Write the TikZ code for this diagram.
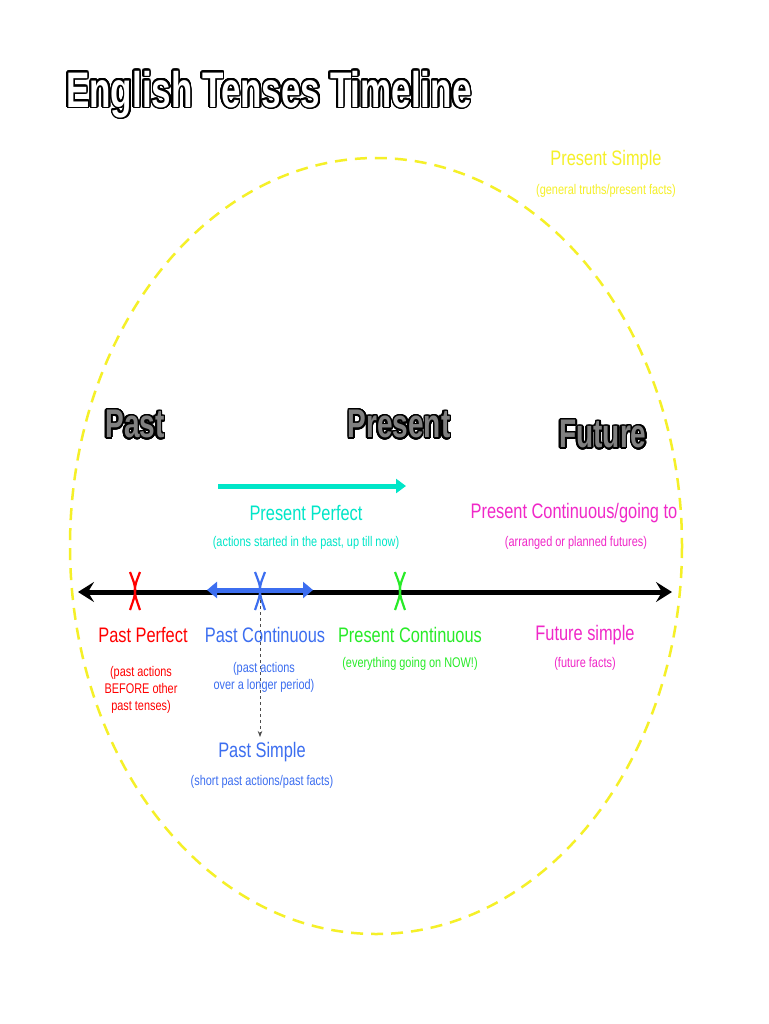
\documentclass[tikz,border=0pt]{standalone}
\usepackage{fontspec}
\setmainfont{Liberation Sans}[FakeStretch=0.78]
\newfontfamily\titlefont{Liberation Sans}[FakeStretch=0.70]
\usepackage{contour}
\contournumber{32}
\usetikzlibrary{arrows.meta}
\definecolor{cyanx}{RGB}{0,230,200}
\definecolor{bluex}{RGB}{60,110,240}
\definecolor{greenx}{RGB}{40,235,40}
\definecolor{pinkx}{RGB}{240,40,200}
\definecolor{yellowx}{RGB}{245,240,40}
\tikzset{main/.style={font=\fontsize{21}{24}\selectfont},
 sub/.style={font=\fontsize{14}{17}\selectfont,align=center},
 big/.style={font=\titlefont\bfseries\fontsize{40}{46}\selectfont},
 xmark/.style={line width=2.2pt}}
\begin{document}
\begin{tikzpicture}[x=1pt,y=-1pt]
\useasboundingbox (0,0) rectangle (768,1024);
\fill[white] (0,0) rectangle (768,1024);
\draw[yellowx,line width=2.5pt,dash pattern=on 12pt off 8pt] (376,546) ellipse [x radius=306,y radius=388];
\contourlength{1.6pt}
\node[anchor=west,font=\titlefont\bfseries\fontsize{50}{56}\selectfont,inner sep=0pt] (title) at (66,95) {\contour{black}{\textcolor{white}{English Tenses Timeline}}};
\node[big] (past) at (135,425) {\contour{black}{\textcolor{gray}{Past}}};
\node[big] (present) at (399,425) {\contour{black}{\textcolor{gray}{Present}}};
\node[big] (future) at (603,435) {\contour{black}{\textcolor{gray}{Future}}};
\node[main,yellowx] (ps) at (606,160) {Present Simple};
\node[sub,yellowx] (pss) at (606,191) {(general truths/present facts)};
\coordinate (ppa) at (218,486); \coordinate (ppb) at (406,486);
\draw[cyanx,line width=5pt,-{Triangle[length=10pt,width=14pt]}] (ppa) -- (ppb);
\node[main,cyanx] (pp) at (306,513) {Present Perfect};
\node[sub,cyanx] (pps) at (306,543) {(actions started in the past, up till now)};
\node[main,pinkx] (pc) at (574,513) {Present Continuous/going to};
\node[sub,pinkx] (pcs) at (576,543) {(arranged or planned futures)};
\coordinate (ta) at (78,592); \coordinate (tb) at (672,592);
\draw[black,line width=5pt,{Stealth[length=16pt,width=20pt,inset=6pt]}-{Stealth[length=16pt,width=20pt,inset=6pt]}] (ta) -- (tb);
\coordinate (ba) at (207,590); \coordinate (bb) at (313,590);
\draw[bluex,line width=5pt,{Triangle[length=10pt,width=16pt]}-{Triangle[length=10pt,width=16pt]}] (ba) -- (bb);
\foreach \x/\c in {135/red,260/bluex,400/greenx}{
 \draw[\c,xmark] (\x-5,572) .. controls (\x+2,590) .. (\x-5,610);
 \draw[\c,xmark] (\x+5,572) .. controls (\x-2,590) .. (\x+5,610);}
\coordinate (da) at (260,600); \coordinate (db) at (260,737);
\draw[gray!60!black,dashed,line width=0.8pt,-{Stealth[length=6pt]}] (da) -- (db);
\node[main,red] (pf) at (143,635) {Past Perfect};
\node[sub,red] (pfs) at (141,690) {(past actions\\BEFORE other\\past tenses)};
\node[main,bluex] (pcn) at (265,635) {Past Continuous};
\node[sub,bluex] (pcns) at (264,677) {(past actions\\over a longer period)};
\node[main,greenx] (prc) at (410,635) {Present Continuous};
\node[sub,greenx] (prcs) at (410,664) {(everything going on NOW!)};
\node[main,pinkx] (fs) at (585,635) {Future simple};
\node[sub,pinkx] (fss) at (585,664) {(future facts)};
\node[main,bluex] (psm) at (262,752) {Past Simple};
\node[sub,bluex] (psms) at (262,782) {(short past actions/past facts)};
\end{tikzpicture}
\end{document}
